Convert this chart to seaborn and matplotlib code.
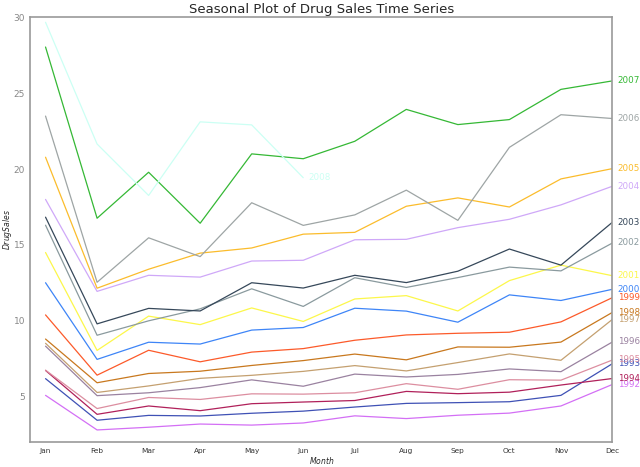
import numpy as np
import pandas as pd
import matplotlib
matplotlib.use('Agg')
import matplotlib.pyplot as plt
import seaborn as sns

months = ['Jan', 'Feb', 'Mar', 'Apr', 'May', 'Jun', 'Jul', 'Aug', 'Sep', 'Oct', 'Nov', 'Dec']
years = [1992, 1993, 1994, 1995, 1996, 1997, 1998, 1999, 2000,
         2001, 2002, 2003, 2004, 2005, 2006, 2007, 2008]

s1992 = [5.09, 2.81, 2.99, 3.20, 3.13, 3.27, 3.74, 3.56, 3.78, 3.92, 4.39, 5.81]
s1993 = [6.19, 3.45, 3.77, 3.73, 3.91, 4.05, 4.32, 4.56, 4.61, 4.67, 5.09, 7.18]
s1994 = [6.73, 3.84, 4.39, 4.08, 4.54, 4.65, 4.75, 5.35, 5.20, 5.30, 5.77, 6.20]
s1995 = [6.75, 4.22, 4.95, 4.82, 5.19, 5.17, 5.26, 5.86, 5.49, 6.12, 6.09, 7.42]
s1996 = [8.33, 5.07, 5.26, 5.60, 6.11, 5.69, 6.49, 6.30, 6.47, 6.83, 6.65, 8.61]
s1997 = [8.52, 5.28, 5.71, 6.21, 6.41, 6.67, 7.05, 6.70, 7.25, 7.82, 7.40, 10.10]
s1998 = [8.80, 5.92, 6.53, 6.68, 7.06, 7.38, 7.81, 7.43, 8.28, 8.26, 8.60, 10.56]
s1999 = [10.39, 6.42, 8.06, 7.30, 7.94, 8.17, 8.72, 9.07, 9.18, 9.25, 9.93, 11.53]
s2000 = [12.51, 7.46, 8.59, 8.47, 9.39, 9.56, 10.83, 10.64, 9.91, 11.71, 11.34, 12.08]
s2001 = [14.50, 8.05, 10.31, 9.75, 10.85, 9.96, 11.44, 11.66, 10.65, 12.65, 13.67, 12.97]
s2002 = [16.30, 9.05, 10.00, 10.79, 12.11, 10.95, 12.84, 12.20, 12.85, 13.54, 13.29, 15.13]
s2003 = [16.83, 9.80, 10.82, 10.65, 12.51, 12.16, 13.00, 12.52, 13.27, 14.73, 13.67, 16.50]
s2004 = [18.00, 11.94, 13.00, 12.88, 13.94, 13.99, 15.34, 15.37, 16.14, 16.69, 17.64, 18.87]
s2005 = [20.78, 12.15, 13.40, 14.46, 14.80, 15.71, 15.83, 17.55, 18.10, 17.50, 19.35, 20.03]
s2006 = [23.49, 12.54, 15.47, 14.23, 17.78, 16.29, 16.98, 18.61, 16.62, 21.43, 23.58, 23.33]
s2007 = [28.04, 16.76, 19.79, 16.43, 21.00, 20.68, 21.83, 23.93, 22.93, 23.26, 25.25, 25.81]
s2008 = [29.67, 21.65, 18.26, 23.11, 22.91, 19.43]

series = [s1992, s1993, s1994, s1995, s1996, s1997, s1998, s1999, s2000,
          s2001, s2002, s2003, s2004, s2005, s2006, s2007, s2008]

mycolors = ['#d36ff5', '#3f51b5', '#b0205a', '#dc8ea0', '#9a82a0', '#c4a070',
            '#c8781e', '#fc5a2a', '#3e85f7', '#fcf74a', '#8a9a9e', '#36485a',
            '#cfa8f8', '#fbbc2c', '#9ea5a5', '#35b835', '#ccfff4']

rows = []
for y, vals in zip(years, series):
    for m, v in enumerate(vals):
        rows.append({'year': y, 'month': m, 'value': v})
df = pd.DataFrame(rows)

sns.set_style('white')
fig, ax = plt.subplots(figsize=(6.4, 4.67), dpi=100)
fig.subplots_adjust(left=0.047, right=0.957, top=0.963, bottom=0.053)

sns.lineplot(data=df, x='month', y='value', hue='year', palette=dict(zip(years, mycolors)),
             hue_order=years, linewidth=0.9, legend=False, ax=ax)

for i, y in enumerate(years):
    d = df[df.year == y]
    ax.text(d.shape[0] - .9, d['value'].values[-1], str(y), fontsize=6.3,
            color=mycolors[i], va='center')

ax.set(xlim=(-0.3, 11), ylim=(2, 30))
ax.set_xticks(range(12))
ax.set_xticklabels(months, fontsize=5.3)
ax.set_yticks([5, 10, 15, 20, 25, 30])
ax.tick_params(axis='y', labelsize=6.5, colors='#555555', length=2, width=0.6, pad=1.5)
ax.tick_params(axis='x', colors='#333333', length=2, width=0.6, pad=2)
for lab in ax.get_yticklabels():
    lab.set_alpha(.7)
ax.set_ylabel('$Drug Sales$', fontsize=5.5, labelpad=-0.5)
ax.set_xlabel('$Month$', fontsize=5.5, labelpad=1)
for sp in ax.spines.values():
    sp.set_color('#999999')
    sp.set_linewidth(1.2)
ax.set_title('Seasonal Plot of Drug Sales Time Series', fontsize=9.5, pad=3)

plt.savefig('out.png', dpi=100)
